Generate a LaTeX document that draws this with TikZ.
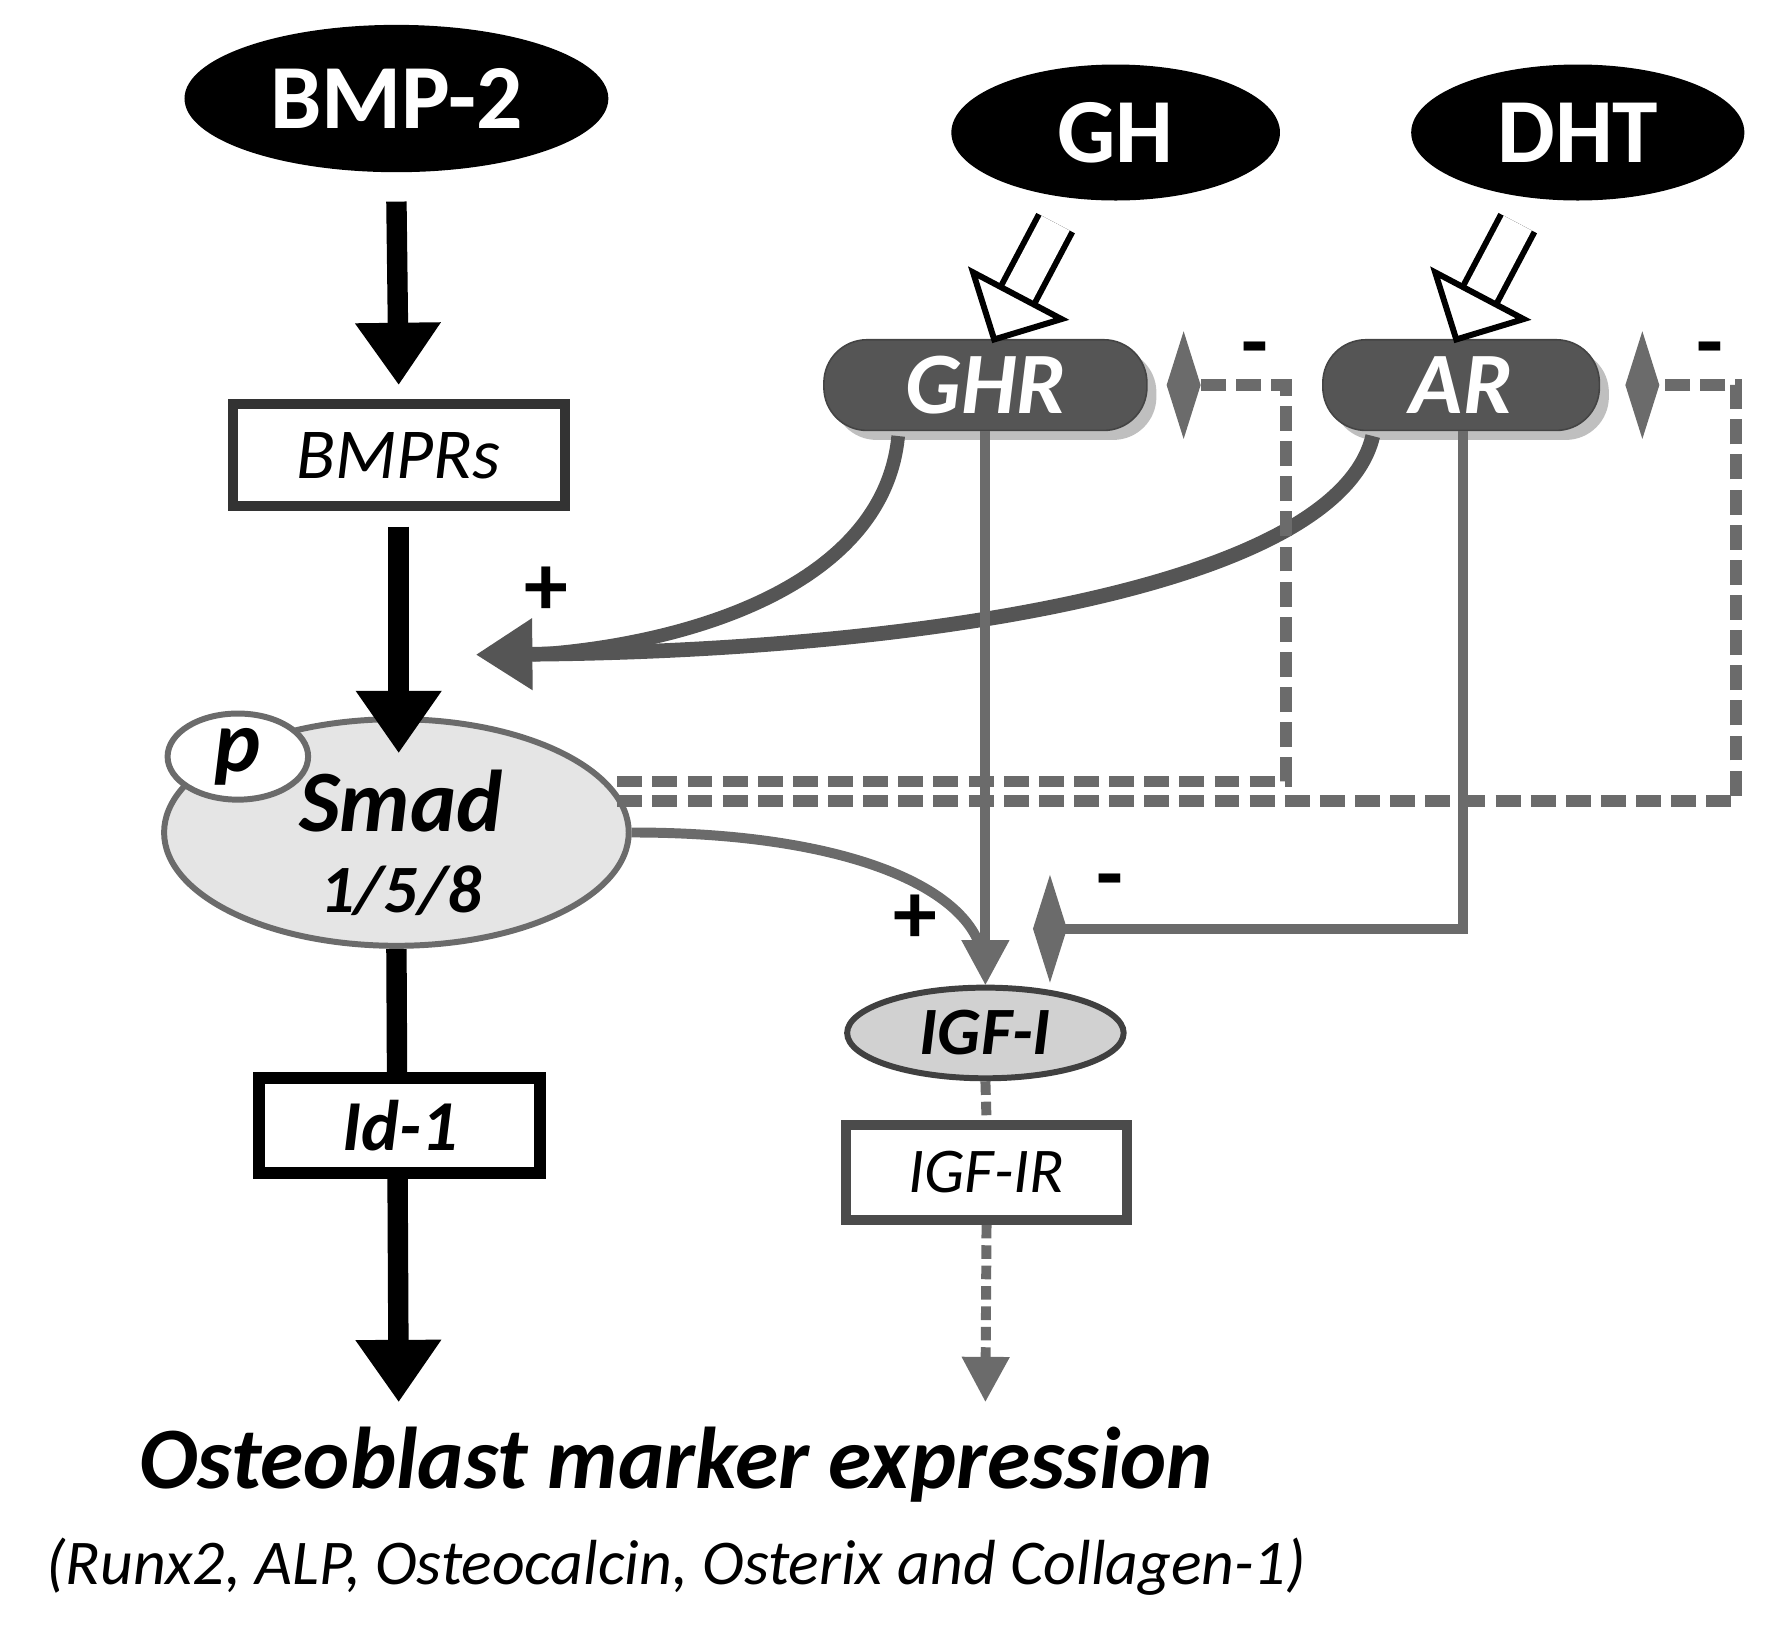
\documentclass[tikz,border=0pt]{standalone}
\usepackage{fontspec}
\setmainfont{Carlito}
\usetikzlibrary{arrows.meta,shapes.geometric,shadows}
\definecolor{g}{HTML}{6B6B6B}
\definecolor{dg}{HTML}{555555}
\pgfdeclarelayer{bg}
\pgfsetlayers{bg,main}
\begin{document}
\begin{tikzpicture}[x=0.01cm,y=-0.01cm,
 blk/.style={ellipse,fill=black,text=white,font=\fontsize{23}{27}\selectfont\bfseries,inner sep=0pt},
 rec/.style={rectangle,draw=black!80,line width=2.5pt,fill=white,font=\fontsize{18}{22}\selectfont\itshape,inner sep=0pt},
 pill/.style={rectangle,rounded corners=0.38cm,fill=dg,draw=dg!80!black,text=white,font=\fontsize{22}{26}\selectfont\bfseries\itshape,inner sep=0pt,minimum width=2.6cm,minimum height=0.8cm,drop shadow},
 barr/.style={line width=0.18cm,-{Triangle[length=0.55cm,width=0.72cm]}},
 harr/.style={double=white,double distance=0.28cm,line width=1.5pt,-{Triangle[open,length=0.5cm,width=1cm,fill=white]}},
 garr/.style={g,line width=2.5pt},
 dia/.style={-{Diamond[length=0.3cm,width=0.95cm]}},
 dsh/.style={g,line width=3pt,dash pattern=on 0.22cm off 0.09cm}]
\useasboundingbox (0,0) rectangle (1568,1434);
\node[blk,minimum width=3.74cm,minimum height=1.3cm] (bmp) at (350,87) {BMP-2};
\node[blk,minimum width=2.9cm,minimum height=1.2cm] (gh) at (985,117) {GH};
\node[blk,minimum width=2.94cm,minimum height=1.2cm] (dht) at (1393,117) {DHT};
\node[pill,minimum width=2.85cm] (ghr) at (870,340) {GHR};
\node[pill,minimum width=2.44cm] (ar) at (1290,340) {AR};
\node[rec,minimum width=2.93cm,minimum height=0.9cm] (bmpr) at (352,402) {BMPRs};
\node[ellipse,draw=g,line width=1.5pt,fill=black!10,minimum width=4.1cm,minimum height=2cm] (smad) at (350,735) {};
\node[font=\fontsize{22}{26}\selectfont\bfseries\itshape] (st) at (354,707) {Smad};
\node[font=\fontsize{17}{20}\selectfont\bfseries\itshape] (sn) at (354,786) {1/5/8};
\node[ellipse,draw=g,line width=1.5pt,fill=white,minimum width=1.24cm,minimum height=0.76cm,font=\fontsize{22}{26}\selectfont\bfseries\itshape,inner sep=0pt] (p) at (210,668) {p};
\node[rec,font=\fontsize{18}{22}\selectfont\bfseries\itshape,minimum width=2.48cm,minimum height=0.84cm,draw=black,line width=3pt] (id) at (353,994) {Id-1};
\node[ellipse,draw=g!60!black,line width=1.5pt,fill=black!18,minimum width=2.44cm,minimum height=0.8cm,font=\fontsize{17}{20}\selectfont\bfseries\itshape,inner sep=0pt] (igf) at (870,912) {IGF-I};
\node[rec,draw=g!70!black,font=\fontsize{16}{20}\selectfont\itshape,minimum width=2.48cm,minimum height=0.84cm] (igfr) at (871,1035) {IGF-IR};
\node[font=\fontsize{22}{26}\selectfont\bfseries\itshape] (ost) at (597,1293) {Osteoblast marker expression};
\node[font=\fontsize{16}{20}\selectfont\itshape] (sub) at (597,1383) {(Runx2, ALP, Osteocalcin, Osterix and Collagen-1)};
\coordinate (out1) at (352,1238);
\coordinate (out2) at (870,1238);
\coordinate (tgt) at (420,578);
\coordinate (ighead) at (870,870);
\coordinate (arhead) at (912,820);
\begin{pgfonlayer}{bg}
\draw[barr] (smad.south) -- (out1);
\draw[g,line width=2.5pt,dash pattern=on 0.12cm off 0.06cm,-{Triangle[length=0.4cm,width=0.4cm]}] (igfr.south) -- (out2);
\end{pgfonlayer}
\draw[barr] (bmp.south |- 0,178) -- (352,340);
\draw[barr] (bmpr.south |- 0,465) -- (352,665);
\draw[harr] (932,197) -- (876,303);
\draw[harr] (1340,197) -- (1284,303);
\draw[dg,line width=0.12cm] (793,385) .. controls (780,520) and (600,570) .. (470,578);
\draw[dg,line width=0.13cm,-{Triangle[length=0.5cm,width=0.6cm]}] (1212,385) .. controls (1180,520) and (800,575) .. (tgt);
\node[font=\fontsize{22}{26}\selectfont\bfseries] (pl1) at (482,522) {+};
\draw[garr,-{Triangle[length=0.4cm,width=0.4cm]}] (ghr.south) -- (ighead);
\draw[g,line width=2.5pt] (smad.east |- 0,735) .. controls (760,735) and (865,790) .. (868,850);
\node[font=\fontsize{22}{26}\selectfont\bfseries] (pl2) at (808,812) {+};
\draw[garr,dia] (ar.south -| 1292,0) -- (1292,820) -- (arhead);
\node[font=\fontsize{22}{26}\selectfont\bfseries] (m3) at (980,785) {-};
\draw[dsh,dia] (545,690) -- (1135,690) -- (1135,340) -- (1030,340);
\draw[dsh,dia] (545,707) -- (1533,707) -- (1533,340) -- (1435,340);
\node[font=\fontsize{22}{26}\selectfont\bfseries] (m1) at (1108,315) {-};
\node[font=\fontsize{22}{26}\selectfont\bfseries] (m2) at (1510,315) {-};
\draw[g,line width=2.5pt,dash pattern=on 0.12cm off 0.06cm] (igf.south) -- (igfr.north);
\end{tikzpicture}
\end{document}
